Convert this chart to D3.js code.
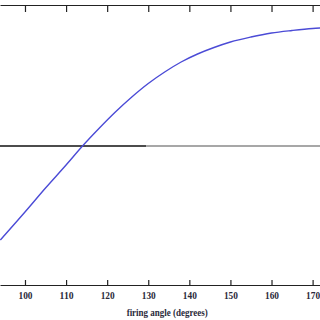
<!DOCTYPE html>
<html>
<head>
<meta charset="utf-8">
<script src="https://cdn.jsdelivr.net/npm/d3@7"></script>
<style>
  body { margin: 0; background: #fff; }
  svg { display: block; }
</style>
</head>
<body>
<div class="svg-target"></div>
<script>
// firing angle (degrees) and response
const angles = [94, 100, 105, 110, 114, 118, 122, 126, 130, 134, 138, 142, 146, 150, 155, 160, 165, 170, 172];
const values = [-0.94, -0.66, -0.42, -0.19, 0.0, 0.175, 0.34, 0.49, 0.625, 0.74, 0.84, 0.92, 0.985, 1.04, 1.09, 1.13, 1.155, 1.175, 1.18];
const xTicks = [100, 110, 120, 130, 140, 150, 160, 170];
const refLevel = 0;

const w = 320;
const h = 320;

const svg = d3.select('.svg-target')
    .append('svg')
    .attr('width', w)
    .attr('height', h);

// x scale (plot is cropped on both sides)
const xScale = d3.scaleLinear()
    .domain([93.92, 171.8])
    .range([0, w]);

// y scale, no labels shown
const yScale = d3.scaleLinear()
    .domain([-1.39, 1.41])
    .range([285, 5]);

// bottom axis
const xAxis = d3.axisBottom(xScale)
    .tickValues(xTicks)
    .tickSizeInner(-5)
    .tickSizeOuter(0)
    .tickPadding(6)
    .tickFormat(d3.format('d'));

const gx = svg.append('g')
    .attr('transform', `translate(0, ${yScale.range()[0]})`)
    .call(xAxis);
gx.select('.domain').attr('stroke', '#222').attr('stroke-width', 1.2);
gx.selectAll('.tick line').attr('stroke', '#222').attr('stroke-width', 1.2);
gx.selectAll('.tick text')
    .attr('font-family', 'Liberation Serif, serif')
    .attr('font-weight', 'bold')
    .attr('font-size', 11)
    .attr('textLength', 14)
    .attr('lengthAdjust', 'spacingAndGlyphs')
    .attr('fill', '#2a2a3a');

// top axis
const topAxis = d3.axisTop(xScale)
    .tickValues(xTicks)
    .tickSizeInner(-7)
    .tickSizeOuter(0)
    .tickFormat('');

const gt = svg.append('g')
    .attr('transform', `translate(0, ${yScale.range()[1]})`)
    .call(topAxis);
gt.select('.domain').attr('stroke', '#222').attr('stroke-width', 1.2);
gt.selectAll('.tick line').attr('stroke', '#222').attr('stroke-width', 1.2);

// reference line (dark then lighter)
svg.append('line')
    .attr('x1', xScale(93.92)).attr('x2', xScale(129.5))
    .attr('y1', yScale(refLevel)).attr('y2', yScale(refLevel))
    .attr('stroke', '#111')
    .attr('stroke-width', 1.3);
svg.append('line')
    .attr('x1', xScale(129.5)).attr('x2', xScale(171.8))
    .attr('y1', yScale(refLevel)).attr('y2', yScale(refLevel))
    .attr('stroke', '#8a8a8a')
    .attr('stroke-width', 1.5);

// curve
const line = d3.line()
    .x((d, i) => xScale(angles[i]))
    .y(d => yScale(d))
    .curve(d3.curveMonotoneX);

svg.append('path')
    .datum(values)
    .attr('d', line)
    .attr('fill', 'none')
    .attr('stroke', '#4b4bd6')
    .attr('stroke-width', 1.4);

// x label
svg.append('text')
    .attr('x', xScale(134.6))
    .attr('y', 316)
    .attr('text-anchor', 'middle')
    .attr('font-family', 'Liberation Serif, serif')
    .attr('font-weight', 'bold')
    .attr('font-size', 11)
    .attr('textLength', 81)
    .attr('lengthAdjust', 'spacingAndGlyphs')
    .attr('fill', '#2a2a3a')
    .text('firing angle (degrees)');
</script>
</body>
</html>
